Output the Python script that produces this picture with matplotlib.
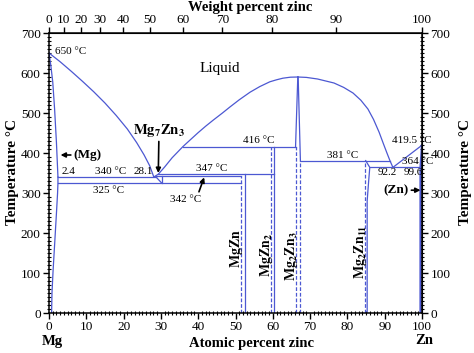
import numpy as np
import matplotlib
matplotlib.use('Agg')
import matplotlib.pyplot as plt
from matplotlib.ticker import MultipleLocator

plt.rcParams['font.family'] = 'Liberation Serif'
plt.rcParams['mathtext.fontset'] = 'stix'

# Mg-Zn phase diagram, x = atomic % Zn, y = temperature (deg C)
# liquidus, Mg side
liq_mg_x = [0, 3, 6, 9, 12, 15, 18, 21, 23.5, 25.5, 27, 28.1]
liq_mg_t = [650, 628, 604, 579, 553, 525, 494, 460, 426, 395, 368, 340]
# liquidus, eutectic -> MgZn2 maximum
liq_mid_x = [28.1, 29.3, 31, 33, 35.9, 38, 40, 42, 44, 46.5, 48.5, 51,
             53.9, 56.5, 59.2, 61, 62.7, 64.7, 66.7]
liq_mid_t = [340, 347, 365, 388, 416, 434, 451, 467, 482, 500, 515, 533,
             552, 566, 578, 583, 587, 589.5, 590]
# liquidus, MgZn2 maximum -> Zn eutectic
liq_zn_x = [66.7, 69, 72, 76.4, 79, 81.5, 83.6, 85.5, 87, 88.5, 89.7, 90.6, 91.4, 92.2]
liq_zn_t = [590, 589, 585, 575, 564, 550, 532, 510, 484, 452, 422, 400, 381, 364]
# liquidus, Zn end
liq_end_x = [92.2, 100]
liq_end_t = [364, 419.5]

# (Mg) solidus and solvus
mg_sol_x = [0, 0.5, 1.0, 1.5, 2.0, 2.4]
mg_sol_t = [650, 618, 578, 510, 425, 340]
mg_solv_x = [2.4, 2.4, 2.3, 2.0, 1.5, 1.1, 0.8, 0.7]
mg_solv_t = [340, 325, 300, 250, 170, 107, 50, 0]

# (Zn) solvus
zn_solv_x = [100, 99.6, 99.6]
zn_solv_t = [419.5, 364, 0]

# Mg7Zn3 small region
mg7_a_x = [28.6, 30.2]
mg7_a_t = [341, 325]
mg7_b_x = [30.2, 30.2]
mg7_b_t = [342, 325]

# invariant horizontals: temperature, x start, x end
iso_t = [340, 342, 347, 325, 416, 381, 364]
iso_x0 = [2.4, 28.6, 29.3, 2.4, 35.9, 67.4, 86.0]
iso_x1 = [28.6, 51.5, 60.4, 51.5, 66.1, 91.4, 99.6]

# compound boundaries, solid
solid_x = [[52.5, 52.5], [60.4, 60.4], [66.7, 66.1], [66.8, 67.4],
           [84.9, 86.0, 85.7, 85.3, 85.3]]
solid_t = [[0, 347], [0, 416], [590, 416], [590, 381],
           [381, 364, 330, 280, 0]]
# compound boundaries, dashed
dash_x = [51.5, 59.4, 66.1, 67.4, 84.7]
dash_t = [342, 416, 416, 381, 381]

line_c = '#4c58d2'


def at2wt(a):
    a = np.asarray(a, dtype=float)
    return a * 65.38 / (a * 65.38 + (100 - a) * 24.305) * 100


def wt2at(w):
    w = np.asarray(w, dtype=float)
    return (w / 65.38) / (w / 65.38 + (100 - w) / 24.305) * 100


fig = plt.figure(figsize=(4.74, 3.53), dpi=100)
ax = fig.add_axes([49/474, 40/353, 373/474, 280/353])

lw = 0.9
ax.plot(liq_mg_x, liq_mg_t, color=line_c, lw=lw)
ax.plot(liq_mid_x, liq_mid_t, color=line_c, lw=lw)
ax.plot(liq_zn_x, liq_zn_t, color=line_c, lw=lw)
ax.plot(liq_end_x, liq_end_t, color=line_c, lw=lw)
ax.plot(mg_sol_x, mg_sol_t, color=line_c, lw=lw)
ax.plot(mg_solv_x, mg_solv_t, color=line_c, lw=lw)
ax.plot(zn_solv_x, zn_solv_t, color=line_c, lw=1.6)
ax.plot(mg7_a_x, mg7_a_t, color=line_c, lw=lw)
ax.plot(mg7_b_x, mg7_b_t, color=line_c, lw=lw)

for t, x0, x1 in zip(iso_t, iso_x0, iso_x1):
    ax.plot([x0, x1], [t, t], color=line_c, lw=lw)
for xs, ts in zip(solid_x, solid_t):
    ax.plot(xs, ts, color=line_c, lw=lw)
for x, t in zip(dash_x, dash_t):
    ax.plot([x, x], [0, t], color=line_c, lw=lw, ls=(0, (3, 1.5)))

ax.set_xlim(0, 100)
ax.set_ylim(0, 700)
ax.set_xticks(range(0, 101, 10))
ax.set_yticks(range(0, 701, 100))
ax.xaxis.set_minor_locator(MultipleLocator(1))
ax.yaxis.set_minor_locator(MultipleLocator(10))
ax.tick_params(which='major', direction='out', length=4, width=1, labelsize=9.5, pad=2)
ax.tick_params(which='minor', direction='inout', length=3, width=0.8)
for s in ax.spines.values():
    s.set_linewidth(1.1)

# top axis in weight percent
top = ax.secondary_xaxis('top', functions=(at2wt, wt2at))
top.set_xticks(range(0, 101, 10))
top.tick_params(direction='out', length=4, width=1, labelsize=9.5, pad=1)

# right temperature axis
right = ax.secondary_yaxis('right')
right.set_yticks(range(0, 701, 100))
right.yaxis.set_minor_locator(MultipleLocator(10))
right.tick_params(which='major', direction='out', length=4, width=1, labelsize=9.5, pad=2)
right.tick_params(which='minor', direction='inout', length=3, width=0.8)

# axis titles
fig.text(13/474, 1 - 172/353, 'Temperature °C', rotation=90, ha='center', va='center',
         fontweight='bold', fontsize=11)
fig.text(466/474, 1 - 172/353, 'Temperature °C', rotation=90, ha='center', va='center',
         fontweight='bold', fontsize=11)
fig.text(252/474, 1 - 344/353, 'Atomic percent zinc', ha='center', va='center',
         fontweight='bold', fontsize=10.5)
fig.text(250/474, 1 - 8/353, 'Weight percent zinc', ha='center', va='center',
         fontweight='bold', fontsize=10.5)
fig.text(52/474, 1 - 341/353, 'Mg', ha='center', va='center', fontweight='bold', fontsize=10.5)
fig.text(424/474, 1 - 341/353, 'Zn', ha='center', va='center', fontweight='bold', fontsize=10.5)

# annotations
fs = 8
ax.text(1.6, 654, '650 °C', fontsize=fs, va='center', ha='left')
ax.text(45.9, 612, 'Liquid', fontsize=11, ha='center', va='center')
ax.text(3.3, 343, '2.4', fontsize=fs, ha='left', va='bottom')
ax.text(16.4, 343, '340 °C', fontsize=fs, ha='center', va='bottom')
ax.text(27.9, 343, '28.1', fontsize=fs, ha='right', va='bottom')
ax.text(16.1, 307, '325 °C', fontsize=fs, ha='center', va='center')
ax.text(36.5, 285, '342 °C', fontsize=fs, ha='center', va='center')
ax.text(43.6, 362, '347 °C', fontsize=fs, ha='center', va='center')
ax.text(56.3, 432, '416 °C', fontsize=fs, ha='center', va='center')
ax.text(78.6, 395, '381 °C', fontsize=fs, ha='center', va='center')
ax.text(97.3, 432, '419.5 °C', fontsize=fs, ha='center', va='center', clip_on=False)
ax.text(98.9, 379, '364 °C', fontsize=fs, ha='center', va='center', clip_on=False)
ax.text(90.7, 352, '92.2', fontsize=fs, ha='center', va='center')
ax.text(97.6, 352, '99.6', fontsize=fs, ha='center', va='center')

arw = dict(arrowstyle='-|>', color='k', lw=1.2, mutation_scale=7, shrinkA=0, shrinkB=0)
ax.annotate(r'$\mathbf{Mg_7Zn_3}$', xy=(29.3, 350), xytext=(29.5, 457),
            ha='center', va='center', fontsize=10.5, arrowprops=arw)
ax.annotate('(Mg)', xy=(3.1, 395), xytext=(6.6, 395), ha='left', va='center',
            fontsize=9.5, fontweight='bold', arrowprops=arw)
ax.annotate('', xy=(41.6, 339), xytext=(40.2, 303), arrowprops=arw)
ax.annotate('(Zn)', xy=(99.6, 307), xytext=(96.4, 307), ha='right', va='center',
            fontsize=9.5, fontweight='bold', arrowprops=arw)

# compound names
ax.text(50.3, 161, r'$\mathbf{MgZn}$', rotation=90, ha='center', va='center', fontsize=10)
ax.text(58.2, 145, r'$\mathbf{MgZn_2}$', rotation=90, ha='center', va='center', fontsize=10)
ax.text(65.1, 143, r'$\mathbf{Mg_2Zn_3}$', rotation=90, ha='center', va='center', fontsize=10)
ax.text(83.6, 152, r'$\mathbf{Mg_2Zn_{11}}$', rotation=90, ha='center', va='center', fontsize=10)

fig.savefig('out.png', dpi=100)
